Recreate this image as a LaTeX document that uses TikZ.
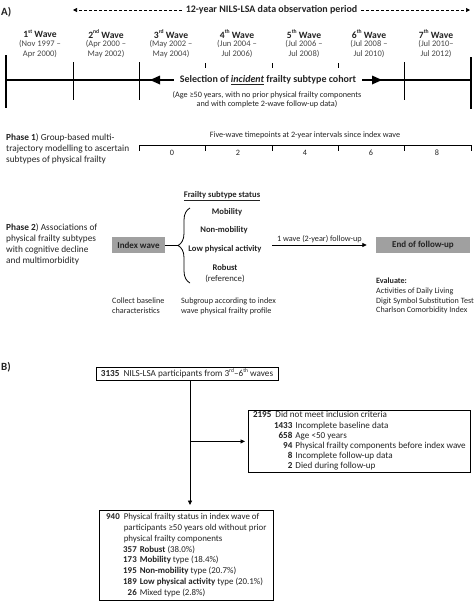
\documentclass[tikz,border=0pt]{standalone}
\usepackage{fontspec}
\setmainfont{Carlito}
\usetikzlibrary{arrows.meta,decorations.pathreplacing,calc}
\definecolor{txtc}{RGB}{35,35,35}
\definecolor{datec}{RGB}{70,70,70}
\definecolor{boxgray}{RGB}{160,160,160}
\newcommand\mysup[1]{\raisebox{0.45em}{\fontsize{5.6}{6}\selectfont #1}}
\begin{document}
\begin{tikzpicture}[x=1pt,y=-1pt,
  every node/.style={inner sep=0pt,text=txtc},
  lab/.style={font=\bfseries\fontsize{11}{12}\selectfont,anchor=west},
  ttl/.style={font=\bfseries\fontsize{10}{11}\selectfont},
  wave/.style={font=\bfseries\fontsize{9.6}{11}\selectfont},
  dates/.style={font=\fontsize{8.5}{10}\selectfont,align=center,text=datec},
  body/.style={font=\fontsize{9.3}{11}\selectfont,align=left,anchor=north west},
  small/.style={font=\fontsize{8.2}{9}\selectfont},
  item/.style={font=\bfseries\fontsize{8.6}{10}\selectfont},
  gbox/.style={fill=boxgray,font=\bfseries\fontsize{9}{10}\selectfont,minimum height=16pt},
  bbox/.style={draw=black,line width=0.8pt,font=\fontsize{9.1}{10.2}\selectfont},
  dasharr/.style={dashed,dash pattern=on 3pt off 2pt,line width=0.7pt,-{Triangle[length=4pt,width=4pt]}},
  tline/.style={line width=1.1pt},
  arr/.style={line width=0.8pt,-{Triangle[length=4.5pt,width=4pt]}}
]
\useasboundingbox (0,0) rectangle (474,603);

% ---------------- Part A ----------------
\node[lab] (A) at (1,12) {A)};
\node[ttl] (obs) at (271.5,10) {12-year NILS-LSA data observation period};
\coordinate (obsL) at (73,10);
\coordinate (obsR) at (470,10);
\draw[dasharr] ([xshift=-4pt]obs.west) -- (obsL);
\draw[dasharr] ([xshift=4pt]obs.east) -- (obsR);

\node[wave] (w1) at (40,34) {1\mysup{st} Wave};
\node[wave] (w2) at (106,34) {2\mysup{nd} Wave};
\node[wave] (w3) at (171,34) {3\mysup{rd} Wave};
\node[wave] (w4) at (237,34) {4\mysup{th} Wave};
\node[wave] (w5) at (304,34) {5\mysup{th} Wave};
\node[wave] (w6) at (369,34) {6\mysup{th} Wave};
\node[wave] (w7) at (436,34) {7\mysup{th} Wave};
\node[dates] (d1) at (40,49) {(Nov 1997 –\\Apr 2000)};
\node[dates] (d2) at (106,49) {(Apr 2000 –\\May 2002)};
\node[dates] (d3) at (171,49) {(May 2002 –\\May 2004)};
\node[dates] (d4) at (237,49) {(Jun 2004 –\\Jul 2006)};
\node[dates] (d5) at (304,49) {(Jul 2006 –\\Jul 2008)};
\node[dates] (d6) at (369,49) {(Jul 2008 –\\Jul 2010)};
\node[dates] (d7) at (436,49) {(Jul 2010–\\Jul 2012)};

% timeline
\coordinate (tl0) at (6,80);
\coordinate (tl7) at (471,80);
\node[ttl] (sel) at (268,80) {Selection of \underline{\textit{incident}} frailty subtype cohort};
\draw[tline] ([xshift=-6pt]sel.west) -- (tl0);
\draw[tline] ([xshift=6pt]sel.east) -- (tl7);
\fill[black] (150,80) -- ++(10,-4.5) -- ++(0,9) -- cycle;
\fill[black] (382,80) -- ++(-10,-4.5) -- ++(0,9) -- cycle;
\draw[line width=1.6pt] (6,55) -- (6,108);
\draw[line width=1.6pt] (471,57) -- (471,109);
\foreach \x in {73,139,404} \draw[line width=0.7pt] (\x,62) -- (\x,100);
\foreach \x in {205,272,338} \draw[line width=0.7pt] (\x,63) -- (\x,68);
\node[small,align=center] (crit) at (267,99.5) {(Age ≥50 years, with no prior physical frailty components\\and with complete 2-wave follow-up data)};

% Phase 1
\node[body] (p1) at (6,133.5) {\textbf{Phase 1}) Group-based multi-\\trajectory modelling to ascertain\\subtypes of physical frailty};
\node[small] (fw) at (305,135) {Five-wave timepoints at 2-year intervals since index wave};
\draw[line width=0.7pt] (139,145) -- (471,145);
\foreach \x in {139,205,272,338,404,471} \draw[line width=0.7pt] (\x,145) -- (\x,151);
\foreach \x/\l in {172/0,238/2,305/4,371/6,437/8} \node[small] at (\x,153) {\l};

% Phase 2
\node[body] (p2) at (6,223.5) {\textbf{Phase 2}) Associations of\\physical frailty subtypes\\with cognitive decline\\and multimorbidity};
\node[item] (fss) at (222,196) {\underline{Frailty subtype status}};
\node[item] (mob) at (227,212) {Mobility};
\node[item] (nmob) at (224,230) {Non-mobility};
\node[item] (lpa) at (225,249) {Low physical activity};
\node[item] (rob) at (225,268) {Robust};
\node[font=\fontsize{8.8}{10}\selectfont] (ref) at (225,279) {(reference)};
\draw[line width=0.8pt,decorate,decoration={brace,amplitude=12pt}] (190,283) -- (190,208);
\coordinate (brtip) at (178,245);
\node[gbox,minimum width=53pt] (iw) at (138.5,245) {Index wave};
\draw[line width=0.8pt] (iw.east) -- (brtip);
\node[gbox,minimum width=94pt] (ef) at (423,245) {End of follow-up};
\coordinate (fu0) at (272,245);
\draw[arr] (fu0) -- ([xshift=-9pt]ef.west) node[midway,above=2pt,font=\fontsize{8.2}{9}\selectfont] {1 wave (2-year) follow-up};
\node[body,font=\fontsize{8.1}{9.7}\selectfont] (ev) at (376,278) {\textbf{Evaluate:}\\Activities of Daily Living\\Digit Symbol Substitution Test\\Charlson Comorbidity Index};
\node[body,font=\fontsize{8.2}{9.5}\selectfont] (cb) at (112,298) {Collect baseline\\characteristics};
\node[body,font=\fontsize{8.2}{9.5}\selectfont] (sg) at (181,298) {Subgroup according to index\\wave physical frailty profile};

% ---------------- Part B ----------------
\node[lab] (B) at (1,367) {B)};
\node[bbox,font=\fontsize{9.2}{10.2}\selectfont,minimum width=182pt,minimum height=13pt] (b1) at (187,373.5) {\textbf{3135}\hspace{4pt}NILS-LSA participants from 3\mysup{rd}–6\mysup{th} waves};
\node[bbox,minimum width=222pt,minimum height=62pt,anchor=north west] (b2) at (248,410) {%
\begin{tabular}{@{}l@{\hspace{4pt}}l@{}}
\textbf{2195} & Did not meet inclusion criteria\\
 & \makebox[17pt][r]{\textbf{1433}}\hspace{3pt}Incomplete baseline data\\
 & \makebox[17pt][r]{\textbf{658}}\hspace{3pt}Age <50 years\\
 & \makebox[17pt][r]{\textbf{94}}\hspace{3pt}Physical frailty components before index wave\\
 & \makebox[17pt][r]{\textbf{8}}\hspace{3pt}Incomplete follow-up data\\
 & \makebox[17pt][r]{\textbf{2}}\hspace{3pt}Died during follow-up
\end{tabular}};
\node[bbox,font=\fontsize{8.9}{10.8}\selectfont,minimum width=174pt,minimum height=90pt,anchor=north west] (b3) at (99,510) {%
\begin{tabular}{@{}l@{\hspace{4pt}}l@{}}
\textbf{940} & Physical frailty status in index wave of\\
 & participants ≥50 years old without prior\\
 & physical frailty components\\
 & \makebox[13pt][r]{\textbf{357}}\hspace{3pt}\textbf{Robust} (38.0\%)\\
 & \makebox[13pt][r]{\textbf{173}}\hspace{3pt}\textbf{Mobility} type (18.4\%)\\
 & \makebox[13pt][r]{\textbf{195}}\hspace{3pt}\textbf{Non-mobility} type (20.7\%)\\
 & \makebox[13pt][r]{\textbf{189}}\hspace{3pt}\textbf{Low physical activity} type (20.1\%)\\
 & \makebox[13pt][r]{\textbf{26}}\hspace{3pt}Mixed type (2.8\%)
\end{tabular}};
\coordinate (trunk) at (190,0);
\draw[arr,shorten >=5pt] (b1.south -| trunk) -- (b3.north -| trunk);
\draw[arr,shorten >=3pt] (b2.west -| trunk) -- (b2.west);
\end{tikzpicture}
\end{document}
